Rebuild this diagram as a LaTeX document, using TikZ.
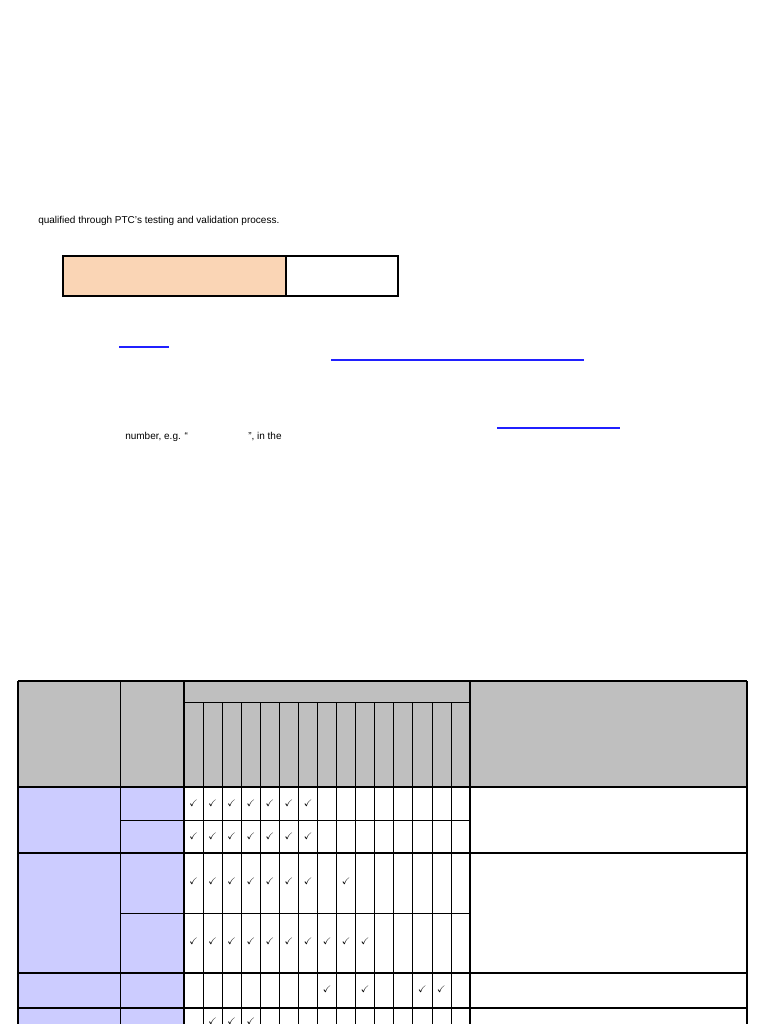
\documentclass[tikz,border=0pt]{standalone}
\usepackage{fontspec}
\usepackage{amssymb}
\setmainfont{Liberation Sans}
\definecolor{peach}{HTML}{FAD5B5}
\definecolor{lav}{HTML}{CCCCFF}
\definecolor{hgray}{HTML}{BFBFBF}
\definecolor{lnk}{HTML}{2020FF}
\begin{document}
\begin{tikzpicture}[x=0.75pt,y=-0.75pt,
  txt/.style={anchor=base west,inner sep=0pt,font=\fontsize{7.5pt}{9pt}\selectfont},
  link/.style={draw=lnk,line width=0.8pt},
  grid/.style={draw=black,line width=0.6pt},
  thick line/.style={draw=black,line width=1.1pt},
  ck/.style={inner sep=0pt,font=\scriptsize}]
\useasboundingbox (0,0) rectangle (768,1024);
\fill[white] (0,0) rectangle (768,1024);
\node[txt] (t1) at (38,223) {qualified through PTC’s testing and validation process.};
\node[draw,line width=1.2pt,fill=peach,minimum width=223*0.75pt,minimum height=40*0.75pt,anchor=north west,inner sep=0pt] (ob) at (62,255) {};
\node[draw,line width=1.2pt,fill=white,minimum width=112*0.75pt,minimum height=40*0.75pt,anchor=north west,inner sep=0pt] (wb) at (285,255) {};
\coordinate (l1a) at (119,347); \coordinate (l1b) at (169,347);
\coordinate (l2a) at (331,360); \coordinate (l2b) at (584,360);
\coordinate (l3a) at (497,428); \coordinate (l3b) at (620,428);
\draw[link] (l1a) -- (l1b);
\draw[link] (l2a) -- (l2b);
\draw[link] (l3a) -- (l3b);
\node[txt] (t2) at (125,439) {number, e.g. “};
\node[txt] (t3) at (248,439) {”, in the};
% table fills
\fill[hgray] (18,681) rectangle (747,787);
\fill[lav] (18,787) rectangle (184,1030);
\fill[white] (184,787) rectangle (747,1030);
% horizontal lines
\draw[thick line] (18,681) -- (747,681);
\draw[grid] (184,702) -- (470,702);
\draw[thick line] (18,787) -- (747,787);
\draw[grid] (120,820) -- (470,820);
\draw[thick line] (18,853) -- (747,853);
\draw[grid] (120,913) -- (470,913);
\draw[thick line] (18,973) -- (747,973);
\draw[thick line] (18,1008) -- (747,1008);
% vertical lines
\draw[thick line] (18,681) -- (18,1030);
\draw[grid] (120,681) -- (120,1030);
\draw[thick line] (184,681) -- (184,1030);
\draw[thick line] (470,681) -- (470,1030);
\draw[thick line] (747,681) -- (747,1030);
\foreach \i in {1,...,14}{
  \pgfmathsetmacro{\xx}{184+\i*19.07}
  \ifnum\i=7 \draw[thick line] (\xx,702) -- (\xx,1030);
  \else \draw[grid] (\xx,702) -- (\xx,1030); \fi
}
% checks: row centre y, list of columns
\foreach \yy/\cols in {803/{1,2,3,4,5,6,7},836/{1,2,3,4,5,6,7},881/{1,2,3,4,5,6,7,9},941/{1,2,3,4,5,6,7,8,9,10},989/{8,10,13,14},1021/{2,3,4}}{
  \foreach \c in \cols {
    \pgfmathsetmacro{\xx}{184+(\c-0.5)*19.07}
    \node[ck] at (\xx,\yy) {$\checkmark$};
  }
}
\end{tikzpicture}
\end{document}
